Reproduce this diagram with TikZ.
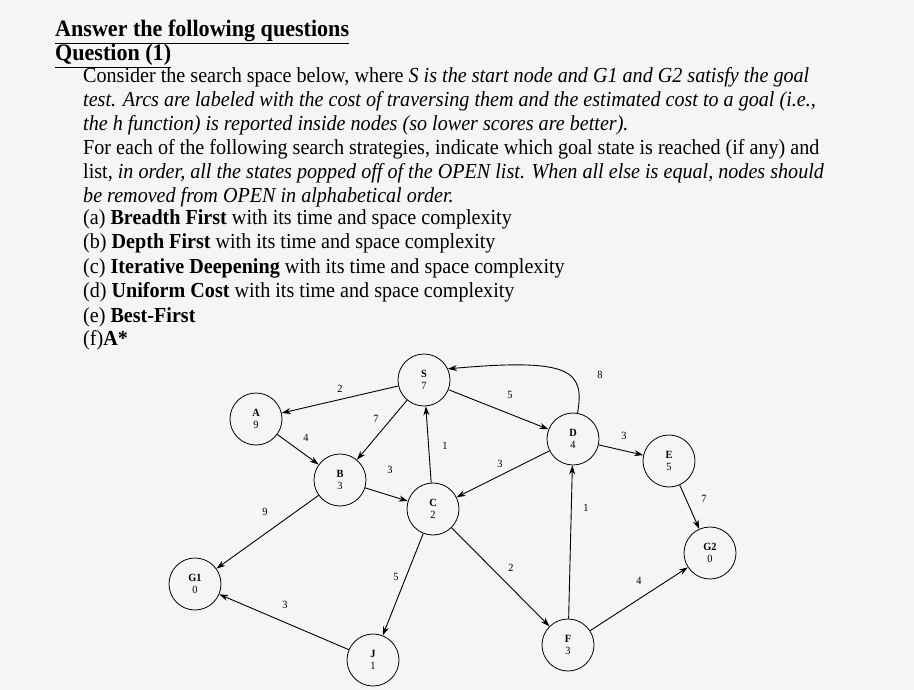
\documentclass[tikz,border=0pt]{standalone}
\usepackage{fontspec}
\setmainfont{Liberation Serif}[FakeStretch=0.94]
\usetikzlibrary{arrows.meta}
\begin{document}
\begin{tikzpicture}[x=1pt,y=-1pt,
  st/.style={circle,draw,line width=0.8pt,minimum size=52pt,inner sep=0pt,align=center,font=\fontsize{11}{12}\selectfont},
  ed/.style={-{Stealth[length=9pt,width=6pt]},line width=0.9pt},
  lb/.style={font=\fontsize{11}{12}\selectfont},
  tx/.style={anchor=base west,inner sep=0pt,font=\fontsize{21.4}{24}\selectfont}]
\fill[gray!8] (0,0) rectangle (914,690);
\useasboundingbox (0,0) rectangle (914,690);
\node[tx,font=\fontsize{23.5}{26}\selectfont\bfseries] (t1) at (55,37) {\underline{Answer the following questions}};
\node[tx,font=\fontsize{23.5}{26}\selectfont\bfseries] (t2) at (55,61) {\underline{Question (1)}};
\node[tx] (l1) at (83,83) {Consider the search space below, where \textit{S is the start node and G1 and G2 satisfy the goal}};
\node[tx] (l2) at (83,107) {\textit{test. Arcs are labeled with the cost of traversing them and the estimated cost to a goal (i.e.,}};
\node[tx] (l3) at (83,131) {\textit{the h function) is reported inside nodes (so lower scores are better).}};
\node[tx] (l4) at (83,155) {For each of the following search strategies, indicate which goal state is reached (if any) and};
\node[tx] (l5) at (83,179) {list, \textit{in order, all the states popped off of the OPEN list. When all else is equal, nodes should}};
\node[tx] (l6) at (83,203) {\textit{be removed from OPEN in alphabetical order.}};
\node[tx] (l7) at (83,225) {(a) \textbf{Breadth First} with its time and space complexity};
\node[tx] (l8) at (83,249) {(b) \textbf{Depth First} with its time and space complexity};
\node[tx] (l9) at (83,273) {(c) \textbf{Iterative Deepening} with its time and space complexity};
\node[tx] (l10) at (83,297) {(d) \textbf{Uniform Cost} with its time and space complexity};
\node[tx] (l11) at (83,322) {(e) \textbf{Best-First}};
\node[tx] (l12) at (83,345) {(f)\textbf{A*}};
\node[st] (S) at (424,380) {\textbf{S}\\7};
\node[st] (A) at (256,419) {\textbf{A}\\9};
\node[st] (B) at (340,480) {\textbf{B}\\3};
\node[st] (C) at (433,509) {\textbf{C}\\2};
\node[st] (G1) at (195,584) {\textbf{G1}\\0};
\node[st] (J) at (373,660) {\textbf{J}\\1};
\node[st] (D) at (573,439) {\textbf{D}\\4};
\node[st] (E) at (669,461) {\textbf{E}\\5};
\node[st] (G2) at (710,553) {\textbf{G2}\\0};
\node[st] (F) at (568,645) {\textbf{F}\\3};
\draw[ed] (S) -- (A);
\draw[ed] (S) -- (B);
\draw[ed] (A) -- (B);
\draw[ed] (B) -- (C);
\draw[ed] (C) -- (S);
\draw[ed] (B) -- (G1);
\draw[ed] (C) -- (J);
\draw[ed] (J) -- (G1);
\draw[ed] (S) -- (D);
\draw[ed] (D.80) .. controls (585,370) and (570,358) .. (S.25);
\draw[ed] (D) -- (C);
\draw[ed] (D) -- (E);
\draw[ed] (E) -- (G2);
\draw[ed] (C) -- (F);
\draw[ed] (F) -- (D);
\draw[ed] (F) -- (G2);
\node[lb] (n1) at (340,389) {2};
\node[lb] (n2) at (376,419) {7};
\node[lb] (n3) at (306,438) {4};
\node[lb] (n4) at (390,470) {3};
\node[lb] (n5) at (445,446) {1};
\node[lb] (n6) at (265,512) {9};
\node[lb] (n7) at (396,577) {5};
\node[lb] (n8) at (285,605) {3};
\node[lb] (n9) at (510,395) {5};
\node[lb] (n10) at (600,375) {8};
\node[lb] (n11) at (500,464) {3};
\node[lb] (n12) at (624,436) {3};
\node[lb] (n13) at (704,499) {7};
\node[lb] (n14) at (511,568) {2};
\node[lb] (n15) at (586,508) {1};
\node[lb] (n16) at (639,581) {4};
\end{tikzpicture}
\end{document}
